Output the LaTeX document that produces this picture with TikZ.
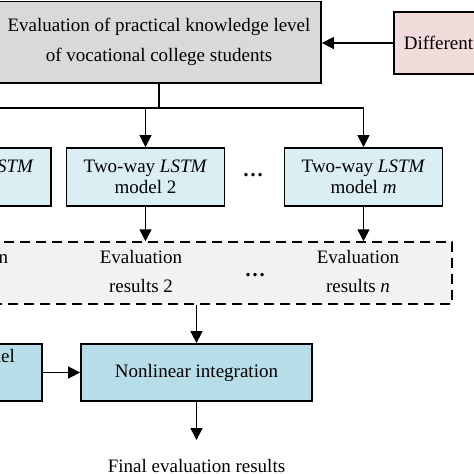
\documentclass[tikz,border=0pt]{standalone}
\usepackage{fontspec}
\setmainfont{Liberation Serif}
\usetikzlibrary{arrows.meta,positioning}
\definecolor{topgray}{HTML}{D9D9D9}
\definecolor{pinkfill}{HTML}{F2DCDB}
\definecolor{lightblue}{HTML}{DAEEF3}
\definecolor{midblue}{HTML}{B7DEE8}
\definecolor{dashfill}{HTML}{F2F2F2}
\begin{document}
\begin{tikzpicture}[x=1pt,y=-1pt,
  every node/.style={font=\fontsize{19}{21}\selectfont, inner sep=0pt},
  box/.style={draw=black, line width=1.8pt, align=center},
  modelbox/.style={box, fill=lightblue, minimum width=158pt, minimum height=58pt},
  conn/.style={line width=1.5pt, draw=black},
  arr/.style={conn, -{Triangle[length=12pt,width=12pt]}},
  dots/.style={font=\fontsize{21}{21}\selectfont\bfseries}
]
\useasboundingbox (0,0) rectangle (474,474);
\clip (0,0) rectangle (474,474);
\fill[white] (0,0) rectangle (474,474);

% top box
\node[box, fill=topgray, minimum width=324pt, minimum height=81.5pt] (top) at (159,42.25)
  {\raisebox{-2pt}{Evaluation of practical knowledge level}\\[11pt]of vocational college students};
% pink box
\node[box, fill=pinkfill, anchor=west, minimum height=62pt, text width=140pt, align=left, inner xsep=10pt] (diff) at (393,43)
  {Different};
\draw[arr] (diff.west) -- (diff.west -| top.east);

% model boxes
\node[modelbox] (m1) at (-28,177) {Two-way \textit{LSTM}\\model 1\hspace*{14pt}};
\node[modelbox] (m2) at (145.5,177) {Two-way \textit{LSTM}\\model 2};
\node[modelbox] (mm) at (363.5,177) {Two-way \textit{LSTM}\\model \textit{m}};
\node[dots] (d1) at (253,175) {\ldots};

\coordinate (j) at (159,108);
\draw[conn] (top.south) -- (j);
\draw[conn] (m1.north |- j) -- (mm.north |- j);
\draw[arr] (m1.north |- j) -- (m1.north);
\draw[arr] (m2.north |- j) -- (m2.north);
\draw[arr] (mm.north |- j) -- (mm.north);

% dashed results box
\node[draw=black, line width=1.5pt, dash pattern=on 10pt off 6pt, fill=dashfill,
  minimum width=572pt, minimum height=62pt] (res) at (166,273) {};
\node[align=center] (r1) at (-33,271) {Evaluation\\[8pt]results 1};
\node[align=center] (r2) at (141,271) {Evaluation\\[8pt]results 2};
\node[align=center] (rn) at (358,271) {Evaluation\\[8pt]results \textit{n}};
\node[dots] (d2) at (255,275) {\ldots};
\draw[arr] (m1.south) -- (m1.south |- res.north);
\draw[arr] (m2.south) -- (m2.south |- res.north);
\draw[arr] (mm.south) -- (mm.south |- res.north);

% nonlinear integration
\node[box, fill=midblue, minimum width=231pt, minimum height=57pt] (nl) at (196.5,372.5) {Nonlinear integration};
\node[box, fill=midblue, minimum width=158pt, minimum height=57pt] (lb) at (-37,372.5) {};
\node[anchor=base east] (lbt) at (15,362) {model};
\draw[arr] (res.south -| nl.north) -- (nl.north);
\draw[arr] (lb.east) -- (nl.west);

\coordinate (fin) at (196.5,440);
\draw[arr] (nl.south) -- (fin);
\node[anchor=base] (final) at (196.5,472) {Final evaluation results};
\end{tikzpicture}
\end{document}
